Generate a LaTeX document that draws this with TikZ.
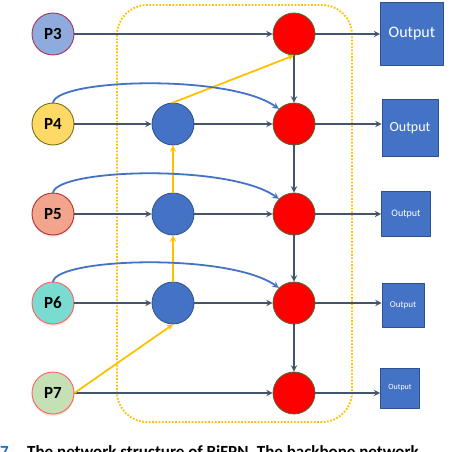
\documentclass[tikz,border=0pt]{standalone}
\usepackage{fontspec}
\setmainfont{Carlito}
\usetikzlibrary{shadows}
\definecolor{bfill}{HTML}{4472C4}
\definecolor{bdark}{HTML}{2F528F}
\definecolor{gline}{HTML}{44546A}
\definecolor{yline}{HTML}{FFC000}
\definecolor{rborder}{HTML}{4E6B3A}
\definecolor{capblue}{HTML}{1F6FB5}
\definecolor{pthree}{HTML}{8FAADC}
\definecolor{pfour}{HTML}{FFD966}
\definecolor{pfive}{HTML}{F2A58C}
\definecolor{psix}{HTML}{7ADCD0}
\definecolor{pseven}{HTML}{C5E0B4}
\begin{document}
\begin{tikzpicture}[x=1pt,y=-1pt,>=stealth,line join=round,line cap=round,
	lvl/.style={circle,minimum size=42pt,inner sep=0pt,line width=0.9pt,font=\bfseries\fontsize{17}{17}\selectfont},
	glow/.style={circular drop shadow={fill=red!35,opacity=0.6,shadow xshift=0pt,shadow yshift=-1.5pt,shadow scale=1.04}},
	mid/.style={circle,minimum size=42pt,draw=bdark,fill=bfill,line width=0.8pt},
	fuse/.style={circle,minimum size=42pt,draw=rborder,fill=red,line width=0.8pt},
	outbox/.style={draw=bdark,fill=bfill,text=white,inner sep=0pt,line width=0.8pt},
	flow/.style={->,draw=gline,line width=1.8pt},
	lift/.style={->,draw=yline,line width=1.8pt},
	bypass/.style={->,draw=bfill,line width=1.8pt}]
				\useasboundingbox (0,0) rectangle (474,452);
				\draw[yline,line width=1.9pt,dash pattern=on 1.7pt off 1.6pt,line cap=butt,rounded corners=30pt] (117,5) rectangle (352,422);
				\node[lvl,draw=purple!60!gray,fill=pthree] (p3) at (53,34) {P3};
				\node[lvl,draw=olive!80!black,fill=pfour] (p4) at (53,124) {P4};
				\node[lvl,glow,draw=red!60!black!80,fill=pfive] (p5) at (53,214) {P5};
				\node[lvl,glow,draw=red!50!pink,fill=psix] (p6) at (53,303) {P6};
				\node[lvl,glow,draw=red!50!pink,fill=pseven] (p7) at (53,393) {P7};
				\foreach \n/\y in {4/124,5/214,6/303}
					\node[mid] (b\n) at (173,\y) {};
				\foreach \n/\y in {3/34,4/124,5/214,6/303,7/393}
					\node[fuse] (r\n) at (294,\y) {};
				\node[outbox,minimum width=63pt,minimum height=63pt,font=\fontsize{16}{16}\selectfont] (o3) at (412,34) {Output};
				\node[outbox,minimum width=56pt,minimum height=57pt,font=\fontsize{14}{14}\selectfont] (o4) at (410,128) {Output};
				\node[outbox,minimum width=49pt,minimum height=45pt,font=\fontsize{10}{10}\selectfont] (o5) at (406,214) {Output};
				\node[outbox,minimum width=42pt,minimum height=44pt,font=\fontsize{9}{9}\selectfont] (o6) at (403,305) {Output};
				\node[outbox,minimum width=39pt,minimum height=40pt,font=\fontsize{8}{8}\selectfont] (o7) at (400,388) {Output};
				\draw[flow] (p3) -- (r3);
				\draw[flow] (p7) -- (r7);
				\foreach \n in {4,5,6}{
					\draw[flow] (p\n) -- (b\n);
					\draw[flow] (b\n) -- (r\n);
				}
				\foreach \n in {3,...,7}
					\draw[flow] (r\n) -- (r\n -| o\n.west);
				\foreach \a/\b in {3/4,4/5,5/6,6/7}
					\draw[flow] (r\a) -- (r\b);
				\draw[lift] (p7.east) -- (b6.south);
				\draw[lift] (b6) -- (b5);
				\draw[lift] (b5) -- (b4);
				\draw[lift] (b4.north) -- (r3.south);
				\foreach \n in {4,5,6}
					\draw[bypass] (p\n.north) .. controls +(5,-24) and +(-49,-35) .. (r\n.135);
				\begin{scope}
					\clip (0,0) rectangle (474,452);
					\node[anchor=base west,inner sep=0pt,font=\bfseries\fontsize{17}{17}\selectfont] (cap) at (27,457) {The network structure of BiFPN. The backbone network};
					\node[anchor=base east,inner sep=0pt,text=capblue,font=\bfseries\fontsize{17}{17}\selectfont] (fig) at (9,457) {7};
				\end{scope}
			\end{tikzpicture}
\end{document}
